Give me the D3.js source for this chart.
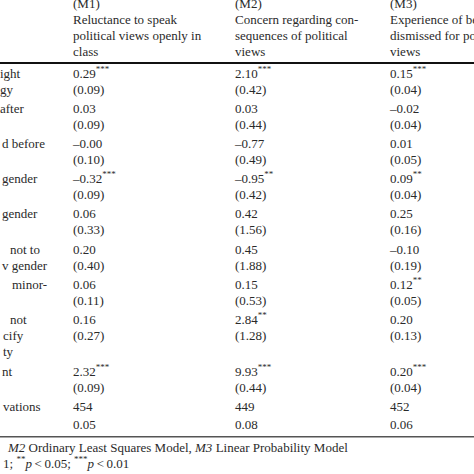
<!DOCTYPE html>
<html><head><meta charset="utf-8">
<script src="https://cdn.jsdelivr.net/npm/d3@7"></script>
<style>body{margin:0;background:#fff}</style>
</head><body>
<svg class="entry-point" width="474" height="474"></svg>
<script>
// visible (cropped) row labels
const rowLabels = [['ight','gy'],['after'],['d before'],['gender'],['gender'],['not to','v gender'],['minor-'],['not','cify','ty'],['nt'],['vations']]
const labelX = [[0,0],[0],[2],[2],[2],[10,2],[12],[10,3,3],[2],[3]]
const headers = [['(M1)','Reluctance to speak','political views openly in','class'],
  ['(M2)','Concern regarding con-','sequences of political','views'],
  ['(M3)','Experience of be','dismissed for po','views']]
const m1 = [['0.29','***','(0.09)'],['0.03','','(0.09)'],['\u20130.00','','(0.10)'],['\u20130.32','***','(0.09)'],['0.06','','(0.33)'],['0.20','','(0.40)'],['0.06','','(0.11)'],['0.16','','(0.27)'],['2.32','***','(0.09)'],['454','','0.05']]
const m2 = [['2.10','***','(0.42)'],['0.03','','(0.44)'],['\u20130.77','','(0.49)'],['\u20130.95','**','(0.42)'],['0.42','','(1.56)'],['0.45','','(1.88)'],['0.15','','(0.53)'],['2.84','**','(1.28)'],['9.93','***','(0.44)'],['449','','0.08']]
const m3 = [['0.15','***','(0.04)'],['\u20130.02','','(0.04)'],['0.01','','(0.05)'],['0.09','**','(0.04)'],['0.25','','(0.16)'],['\u20130.10','','(0.19)'],['0.12','**','(0.05)'],['0.20','','(0.13)'],['0.20','***','(0.04)'],['452','','0.06']]
const cols = [m1, m2, m3]

const svg = d3.select('.entry-point')
const font = 'Liberation Serif, Times New Roman, serif'
const ink = '#2a2a2a'
const colX = d3.scaleOrdinal().domain([0,1,2]).range([73,235,390])
const rowY = d3.scaleLinear().domain([0,1]).range([77.5,112.7])
const line = 16
// the 3-line label in row 7 pushes later rows down
const yOf = r => rowY(r) + (r >= 8 ? 17 : 0)

const txt = (g, x, y, s) => g.append('text').attr('x', x).attr('y', y)
  .attr('font-family', font).attr('font-size', 13).attr('fill', ink).text(s)

headers.forEach((h, c) => h.forEach((s, i) => txt(svg, colX(c), 8 + i * line, s)))

svg.append('rect').attr('x', 0).attr('y', 62).attr('width', 474).attr('height', 2).attr('fill', '#111')

rowLabels.forEach((ls, r) => {
  ls.forEach((s, i) => txt(svg, labelX[r][i], yOf(r) + i * line, s))
})

cols.forEach((col, c) => col.forEach((d, r) => {
  const y = yOf(r)
  const t = txt(svg, colX(c), y, d[0])
  if (d[1]) t.append('tspan').attr('dy', -6).attr('font-size', 9).text(d[1])
  txt(svg, colX(c), y + line + (r === 9 ? 2 : 0), d[2])
}))

svg.append('rect').attr('x', 0).attr('y', 436).attr('width', 474).attr('height', 1.5).attr('fill', '#555')

const f1 = txt(svg, 8, 452, '')
f1.append('tspan').attr('font-style', 'italic').text('M2')
f1.append('tspan').text(' Ordinary Least Squares Model, ')
f1.append('tspan').attr('font-style', 'italic').text('M3')
f1.append('tspan').text(' Linear Probability Model')
const f2 = txt(svg, 3, 468, '1; ')
;[['**','p','\u2009<\u20090.05; '],['***','p','\u2009<\u20090.01']].forEach(p => {
  f2.append('tspan').attr('font-size', 9).attr('dy', -6).text(p[0])
  f2.append('tspan').attr('font-style', 'italic').attr('dy', 6).text(p[1])
  f2.append('tspan').text(p[2])
})
</script>
</body></html>
